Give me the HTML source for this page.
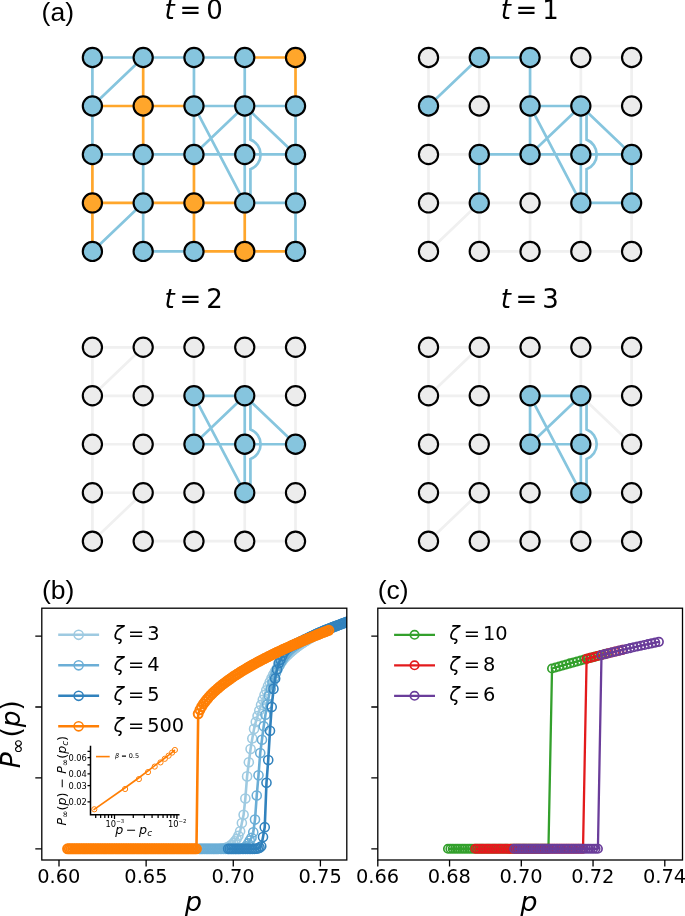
<!DOCTYPE html>
<html lang="en"><head><meta charset="utf-8"><title>Figure</title>
<style>html,body{margin:0;padding:0;background:#fff}svg{display:block}</style>
</head><body>
<svg width="685" height="916" viewBox="0 0 685 916">
<rect width="685" height="916" fill="#fff"/>
<g fill="none" stroke-width="2.7" stroke-linecap="butt">
<path stroke="#86c5de" d="M92.4 57.5L143.18 57.5M143.18 57.5L193.96 57.5M193.96 57.5L244.74 57.5M193.96 105.98L244.74 105.98M244.74 105.98L295.52 105.98M92.4 154.46L143.18 154.46M143.18 154.46L193.96 154.46M193.96 154.46L244.74 154.46M244.74 154.46L295.52 154.46M244.74 202.94L295.52 202.94M143.18 251.42L193.96 251.42M92.4 57.5L92.4 105.98M92.4 105.98L92.4 154.46M143.18 154.46L143.18 202.94M143.18 202.94L143.18 251.42M193.96 57.5L193.96 105.98M193.96 105.98L193.96 154.46M244.74 57.5L244.74 105.98M244.74 105.98L244.74 154.46M244.74 154.46L244.74 202.94M295.52 105.98L295.52 154.46M295.52 154.46L295.52 202.94M295.52 202.94L295.52 251.42M143.18 57.5L92.4 105.98M143.18 202.94L92.4 251.42M244.74 105.98L193.96 154.46M193.96 105.98L244.74 202.94M244.74 105.98L295.52 154.46"/>
<path stroke="#ffa62b" d="M244.74 57.5L295.52 57.5M92.4 105.98L143.18 105.98M143.18 105.98L193.96 105.98M92.4 202.94L143.18 202.94M143.18 202.94L193.96 202.94M193.96 202.94L244.74 202.94M193.96 251.42L244.74 251.42M244.74 251.42L295.52 251.42M92.4 154.46L92.4 202.94M92.4 202.94L92.4 251.42M143.18 57.5L143.18 105.98M143.18 105.98L143.18 154.46M193.96 154.46L193.96 202.94M193.96 202.94L193.96 251.42M244.74 202.94L244.74 251.42M295.52 57.5L295.52 105.98"/>
<path stroke="#86c5de" d="M250.44 105.98 L250.44 139.62 A15.9 15.9 0 0 1 250.44 169.3 L250.44 202.94"/>
</g>
<g stroke="#000" stroke-width="2.15">
<circle cx="92.4" cy="57.5" r="9.6" fill="#86c5de"/>
<circle cx="143.18" cy="57.5" r="9.6" fill="#86c5de"/>
<circle cx="193.96" cy="57.5" r="9.6" fill="#86c5de"/>
<circle cx="244.74" cy="57.5" r="9.6" fill="#86c5de"/>
<circle cx="295.52" cy="57.5" r="9.6" fill="#ffa62b"/>
<circle cx="92.4" cy="105.98" r="9.6" fill="#86c5de"/>
<circle cx="143.18" cy="105.98" r="9.6" fill="#ffa62b"/>
<circle cx="193.96" cy="105.98" r="9.6" fill="#86c5de"/>
<circle cx="244.74" cy="105.98" r="9.6" fill="#86c5de"/>
<circle cx="295.52" cy="105.98" r="9.6" fill="#86c5de"/>
<circle cx="92.4" cy="154.46" r="9.6" fill="#86c5de"/>
<circle cx="143.18" cy="154.46" r="9.6" fill="#86c5de"/>
<circle cx="193.96" cy="154.46" r="9.6" fill="#86c5de"/>
<circle cx="244.74" cy="154.46" r="9.6" fill="#86c5de"/>
<circle cx="295.52" cy="154.46" r="9.6" fill="#86c5de"/>
<circle cx="92.4" cy="202.94" r="9.6" fill="#ffa62b"/>
<circle cx="143.18" cy="202.94" r="9.6" fill="#86c5de"/>
<circle cx="193.96" cy="202.94" r="9.6" fill="#ffa62b"/>
<circle cx="244.74" cy="202.94" r="9.6" fill="#86c5de"/>
<circle cx="295.52" cy="202.94" r="9.6" fill="#86c5de"/>
<circle cx="92.4" cy="251.42" r="9.6" fill="#86c5de"/>
<circle cx="143.18" cy="251.42" r="9.6" fill="#86c5de"/>
<circle cx="193.96" cy="251.42" r="9.6" fill="#86c5de"/>
<circle cx="244.74" cy="251.42" r="9.6" fill="#ffa62b"/>
<circle cx="295.52" cy="251.42" r="9.6" fill="#86c5de"/>
</g>
<g fill="none" stroke-width="2.7" stroke-linecap="butt">
<path stroke="#f0f0f0" d="M428.5 57.5L479.28 57.5M530.06 57.5L580.84 57.5M580.84 57.5L631.62 57.5M428.5 105.98L479.28 105.98M479.28 105.98L530.06 105.98M580.84 105.98L631.62 105.98M428.5 154.46L479.28 154.46M428.5 202.94L479.28 202.94M479.28 202.94L530.06 202.94M530.06 202.94L580.84 202.94M479.28 251.42L530.06 251.42M530.06 251.42L580.84 251.42M580.84 251.42L631.62 251.42M428.5 57.5L428.5 105.98M428.5 105.98L428.5 154.46M428.5 154.46L428.5 202.94M428.5 202.94L428.5 251.42M479.28 57.5L479.28 105.98M479.28 105.98L479.28 154.46M479.28 202.94L479.28 251.42M530.06 154.46L530.06 202.94M530.06 202.94L530.06 251.42M580.84 57.5L580.84 105.98M580.84 202.94L580.84 251.42M631.62 57.5L631.62 105.98M631.62 105.98L631.62 154.46M631.62 202.94L631.62 251.42M479.28 202.94L428.5 251.42"/>
<path stroke="#86c5de" d="M479.28 57.5L530.06 57.5M530.06 105.98L580.84 105.98M479.28 154.46L530.06 154.46M530.06 154.46L580.84 154.46M580.84 154.46L631.62 154.46M580.84 202.94L631.62 202.94M479.28 154.46L479.28 202.94M530.06 57.5L530.06 105.98M530.06 105.98L530.06 154.46M580.84 105.98L580.84 154.46M580.84 154.46L580.84 202.94M631.62 154.46L631.62 202.94M479.28 57.5L428.5 105.98M580.84 105.98L530.06 154.46M530.06 105.98L580.84 202.94M580.84 105.98L631.62 154.46"/>
<path stroke="#86c5de" d="M586.54 105.98 L586.54 139.62 A15.9 15.9 0 0 1 586.54 169.3 L586.54 202.94"/>
</g>
<g stroke="#000" stroke-width="2.15">
<circle cx="428.5" cy="57.5" r="9.6" fill="#ececec"/>
<circle cx="479.28" cy="57.5" r="9.6" fill="#86c5de"/>
<circle cx="530.06" cy="57.5" r="9.6" fill="#86c5de"/>
<circle cx="580.84" cy="57.5" r="9.6" fill="#ececec"/>
<circle cx="631.62" cy="57.5" r="9.6" fill="#ececec"/>
<circle cx="428.5" cy="105.98" r="9.6" fill="#86c5de"/>
<circle cx="479.28" cy="105.98" r="9.6" fill="#ececec"/>
<circle cx="530.06" cy="105.98" r="9.6" fill="#86c5de"/>
<circle cx="580.84" cy="105.98" r="9.6" fill="#86c5de"/>
<circle cx="631.62" cy="105.98" r="9.6" fill="#ececec"/>
<circle cx="428.5" cy="154.46" r="9.6" fill="#ececec"/>
<circle cx="479.28" cy="154.46" r="9.6" fill="#86c5de"/>
<circle cx="530.06" cy="154.46" r="9.6" fill="#86c5de"/>
<circle cx="580.84" cy="154.46" r="9.6" fill="#86c5de"/>
<circle cx="631.62" cy="154.46" r="9.6" fill="#86c5de"/>
<circle cx="428.5" cy="202.94" r="9.6" fill="#ececec"/>
<circle cx="479.28" cy="202.94" r="9.6" fill="#86c5de"/>
<circle cx="530.06" cy="202.94" r="9.6" fill="#ececec"/>
<circle cx="580.84" cy="202.94" r="9.6" fill="#86c5de"/>
<circle cx="631.62" cy="202.94" r="9.6" fill="#86c5de"/>
<circle cx="428.5" cy="251.42" r="9.6" fill="#ececec"/>
<circle cx="479.28" cy="251.42" r="9.6" fill="#ececec"/>
<circle cx="530.06" cy="251.42" r="9.6" fill="#ececec"/>
<circle cx="580.84" cy="251.42" r="9.6" fill="#ececec"/>
<circle cx="631.62" cy="251.42" r="9.6" fill="#ececec"/>
</g>
<g fill="none" stroke-width="2.7" stroke-linecap="butt">
<path stroke="#f0f0f0" d="M92.4 347.3L143.18 347.3M143.18 347.3L193.96 347.3M193.96 347.3L244.74 347.3M244.74 347.3L295.52 347.3M92.4 395.78L143.18 395.78M143.18 395.78L193.96 395.78M244.74 395.78L295.52 395.78M92.4 444.26L143.18 444.26M143.18 444.26L193.96 444.26M92.4 492.74L143.18 492.74M143.18 492.74L193.96 492.74M193.96 492.74L244.74 492.74M244.74 492.74L295.52 492.74M143.18 541.22L193.96 541.22M193.96 541.22L244.74 541.22M244.74 541.22L295.52 541.22M92.4 347.3L92.4 395.78M92.4 395.78L92.4 444.26M92.4 444.26L92.4 492.74M92.4 492.74L92.4 541.22M143.18 347.3L143.18 395.78M143.18 395.78L143.18 444.26M143.18 444.26L143.18 492.74M143.18 492.74L143.18 541.22M193.96 347.3L193.96 395.78M193.96 444.26L193.96 492.74M193.96 492.74L193.96 541.22M244.74 347.3L244.74 395.78M244.74 492.74L244.74 541.22M295.52 347.3L295.52 395.78M295.52 395.78L295.52 444.26M295.52 444.26L295.52 492.74M295.52 492.74L295.52 541.22M143.18 347.3L92.4 395.78M143.18 492.74L92.4 541.22"/>
<path stroke="#86c5de" d="M193.96 395.78L244.74 395.78M193.96 444.26L244.74 444.26M244.74 444.26L295.52 444.26M193.96 395.78L193.96 444.26M244.74 395.78L244.74 444.26M244.74 444.26L244.74 492.74M244.74 395.78L193.96 444.26M193.96 395.78L244.74 492.74M244.74 395.78L295.52 444.26"/>
<path stroke="#86c5de" d="M250.44 395.78 L250.44 429.42 A15.9 15.9 0 0 1 250.44 459.1 L250.44 492.74"/>
</g>
<g stroke="#000" stroke-width="2.15">
<circle cx="92.4" cy="347.3" r="9.6" fill="#ececec"/>
<circle cx="143.18" cy="347.3" r="9.6" fill="#ececec"/>
<circle cx="193.96" cy="347.3" r="9.6" fill="#ececec"/>
<circle cx="244.74" cy="347.3" r="9.6" fill="#ececec"/>
<circle cx="295.52" cy="347.3" r="9.6" fill="#ececec"/>
<circle cx="92.4" cy="395.78" r="9.6" fill="#ececec"/>
<circle cx="143.18" cy="395.78" r="9.6" fill="#ececec"/>
<circle cx="193.96" cy="395.78" r="9.6" fill="#86c5de"/>
<circle cx="244.74" cy="395.78" r="9.6" fill="#86c5de"/>
<circle cx="295.52" cy="395.78" r="9.6" fill="#ececec"/>
<circle cx="92.4" cy="444.26" r="9.6" fill="#ececec"/>
<circle cx="143.18" cy="444.26" r="9.6" fill="#ececec"/>
<circle cx="193.96" cy="444.26" r="9.6" fill="#86c5de"/>
<circle cx="244.74" cy="444.26" r="9.6" fill="#86c5de"/>
<circle cx="295.52" cy="444.26" r="9.6" fill="#86c5de"/>
<circle cx="92.4" cy="492.74" r="9.6" fill="#ececec"/>
<circle cx="143.18" cy="492.74" r="9.6" fill="#ececec"/>
<circle cx="193.96" cy="492.74" r="9.6" fill="#ececec"/>
<circle cx="244.74" cy="492.74" r="9.6" fill="#86c5de"/>
<circle cx="295.52" cy="492.74" r="9.6" fill="#ececec"/>
<circle cx="92.4" cy="541.22" r="9.6" fill="#ececec"/>
<circle cx="143.18" cy="541.22" r="9.6" fill="#ececec"/>
<circle cx="193.96" cy="541.22" r="9.6" fill="#ececec"/>
<circle cx="244.74" cy="541.22" r="9.6" fill="#ececec"/>
<circle cx="295.52" cy="541.22" r="9.6" fill="#ececec"/>
</g>
<g fill="none" stroke-width="2.7" stroke-linecap="butt">
<path stroke="#f0f0f0" d="M428.5 347.3L479.28 347.3M479.28 347.3L530.06 347.3M530.06 347.3L580.84 347.3M580.84 347.3L631.62 347.3M428.5 395.78L479.28 395.78M479.28 395.78L530.06 395.78M580.84 395.78L631.62 395.78M428.5 444.26L479.28 444.26M479.28 444.26L530.06 444.26M580.84 444.26L631.62 444.26M428.5 492.74L479.28 492.74M479.28 492.74L530.06 492.74M530.06 492.74L580.84 492.74M580.84 492.74L631.62 492.74M479.28 541.22L530.06 541.22M530.06 541.22L580.84 541.22M580.84 541.22L631.62 541.22M428.5 347.3L428.5 395.78M428.5 395.78L428.5 444.26M428.5 444.26L428.5 492.74M428.5 492.74L428.5 541.22M479.28 347.3L479.28 395.78M479.28 395.78L479.28 444.26M479.28 444.26L479.28 492.74M479.28 492.74L479.28 541.22M530.06 347.3L530.06 395.78M530.06 444.26L530.06 492.74M530.06 492.74L530.06 541.22M580.84 347.3L580.84 395.78M580.84 492.74L580.84 541.22M631.62 347.3L631.62 395.78M631.62 395.78L631.62 444.26M631.62 444.26L631.62 492.74M631.62 492.74L631.62 541.22M479.28 347.3L428.5 395.78M479.28 492.74L428.5 541.22M580.84 395.78L631.62 444.26"/>
<path stroke="#86c5de" d="M530.06 395.78L580.84 395.78M530.06 444.26L580.84 444.26M530.06 395.78L530.06 444.26M580.84 395.78L580.84 444.26M580.84 444.26L580.84 492.74M580.84 395.78L530.06 444.26M530.06 395.78L580.84 492.74"/>
<path stroke="#86c5de" d="M586.54 395.78 L586.54 429.42 A15.9 15.9 0 0 1 586.54 459.1 L586.54 492.74"/>
</g>
<g stroke="#000" stroke-width="2.15">
<circle cx="428.5" cy="347.3" r="9.6" fill="#ececec"/>
<circle cx="479.28" cy="347.3" r="9.6" fill="#ececec"/>
<circle cx="530.06" cy="347.3" r="9.6" fill="#ececec"/>
<circle cx="580.84" cy="347.3" r="9.6" fill="#ececec"/>
<circle cx="631.62" cy="347.3" r="9.6" fill="#ececec"/>
<circle cx="428.5" cy="395.78" r="9.6" fill="#ececec"/>
<circle cx="479.28" cy="395.78" r="9.6" fill="#ececec"/>
<circle cx="530.06" cy="395.78" r="9.6" fill="#86c5de"/>
<circle cx="580.84" cy="395.78" r="9.6" fill="#86c5de"/>
<circle cx="631.62" cy="395.78" r="9.6" fill="#ececec"/>
<circle cx="428.5" cy="444.26" r="9.6" fill="#ececec"/>
<circle cx="479.28" cy="444.26" r="9.6" fill="#ececec"/>
<circle cx="530.06" cy="444.26" r="9.6" fill="#86c5de"/>
<circle cx="580.84" cy="444.26" r="9.6" fill="#86c5de"/>
<circle cx="631.62" cy="444.26" r="9.6" fill="#ececec"/>
<circle cx="428.5" cy="492.74" r="9.6" fill="#ececec"/>
<circle cx="479.28" cy="492.74" r="9.6" fill="#ececec"/>
<circle cx="530.06" cy="492.74" r="9.6" fill="#ececec"/>
<circle cx="580.84" cy="492.74" r="9.6" fill="#86c5de"/>
<circle cx="631.62" cy="492.74" r="9.6" fill="#ececec"/>
<circle cx="428.5" cy="541.22" r="9.6" fill="#ececec"/>
<circle cx="479.28" cy="541.22" r="9.6" fill="#ececec"/>
<circle cx="530.06" cy="541.22" r="9.6" fill="#ececec"/>
<circle cx="580.84" cy="541.22" r="9.6" fill="#ececec"/>
<circle cx="631.62" cy="541.22" r="9.6" fill="#ececec"/>
</g>
<g font-family="'DejaVu Sans','Liberation Sans',sans-serif" font-size="26" fill="#000">
<text y="18.6"><tspan x="164.6" font-style="oblique">t</tspan> <tspan x="179.4">=</tspan> <tspan x="206.2">0</tspan></text>
</g>
<g font-family="'DejaVu Sans','Liberation Sans',sans-serif" font-size="26" fill="#000">
<text y="18.6"><tspan x="500.7" font-style="oblique">t</tspan> <tspan x="515.5">=</tspan> <tspan x="542.3">1</tspan></text>
</g>
<g font-family="'DejaVu Sans','Liberation Sans',sans-serif" font-size="26" fill="#000">
<text y="308.4"><tspan x="164.6" font-style="oblique">t</tspan> <tspan x="179.4">=</tspan> <tspan x="206.2">2</tspan></text>
</g>
<g font-family="'DejaVu Sans','Liberation Sans',sans-serif" font-size="26" fill="#000">
<text y="308.4"><tspan x="500.7" font-style="oblique">t</tspan> <tspan x="515.5">=</tspan> <tspan x="542.3">3</tspan></text>
</g>
<g font-family="'Liberation Sans','DejaVu Sans',sans-serif" font-size="26.5" fill="#000">
<text x="41.6" y="20.6">(a)</text>
<text x="41.9" y="599.4">(b)</text>
<text x="377.8" y="599.4">(c)</text>
</g>
<defs>
<marker id="m3" markerUnits="userSpaceOnUse" markerWidth="12.2" markerHeight="12.2" refX="6.1" refY="6.1" viewBox="0 0 12.2 12.2" overflow="visible"><circle cx="6.1" cy="6.1" r="4.55" fill="none" stroke="#9ecae1" stroke-width="1.55"/></marker>
<marker id="m4" markerUnits="userSpaceOnUse" markerWidth="12.2" markerHeight="12.2" refX="6.1" refY="6.1" viewBox="0 0 12.2 12.2" overflow="visible"><circle cx="6.1" cy="6.1" r="4.55" fill="none" stroke="#6baed6" stroke-width="1.55"/></marker>
<marker id="m5" markerUnits="userSpaceOnUse" markerWidth="12.2" markerHeight="12.2" refX="6.1" refY="6.1" viewBox="0 0 12.2 12.2" overflow="visible"><circle cx="6.1" cy="6.1" r="4.55" fill="none" stroke="#3182bd" stroke-width="1.55"/></marker>
<marker id="mo" markerUnits="userSpaceOnUse" markerWidth="12.9" markerHeight="12.9" refX="6.45" refY="6.45" viewBox="0 0 12.9 12.9" overflow="visible"><circle cx="6.45" cy="6.45" r="4.5" fill="none" stroke="#ff7f05" stroke-width="1.95"/></marker>
<marker id="mg" markerUnits="userSpaceOnUse" markerWidth="11.8" markerHeight="11.8" refX="5.9" refY="5.9" viewBox="0 0 11.8 11.8" overflow="visible"><circle cx="5.9" cy="5.9" r="4.2" fill="none" stroke="#33a02c" stroke-width="1.7"/></marker>
<marker id="mr" markerUnits="userSpaceOnUse" markerWidth="11.8" markerHeight="11.8" refX="5.9" refY="5.9" viewBox="0 0 11.8 11.8" overflow="visible"><circle cx="5.9" cy="5.9" r="4.2" fill="none" stroke="#e31a1c" stroke-width="1.7"/></marker>
<marker id="mp" markerUnits="userSpaceOnUse" markerWidth="11.8" markerHeight="11.8" refX="5.9" refY="5.9" viewBox="0 0 11.8 11.8" overflow="visible"><circle cx="5.9" cy="5.9" r="4.2" fill="none" stroke="#6a3d9a" stroke-width="1.7"/></marker>
<marker id="mi" markerUnits="userSpaceOnUse" markerWidth="7.2" markerHeight="7.2" refX="3.6" refY="3.6" viewBox="0 0 7.2 7.2" overflow="visible"><circle cx="3.6" cy="3.6" r="2.6" fill="none" stroke="#ff7f05" stroke-width="1"/></marker>
<clipPath id="clipb"><rect x="41.8" y="608.2" width="305" height="251.8"/></clipPath>
<clipPath id="clipc"><rect x="377.8" y="608.2" width="304.7" height="251.8"/></clipPath>
</defs>
<g clip-path="url(#clipb)">
<polyline fill="none" stroke="#9ecae1" stroke-width="2.6" stroke-linejoin="round" marker-start="url(#m3)" marker-mid="url(#m3)" marker-end="url(#m3)" points="200.06,848.8 201.8,848.8 203.54,848.8 205.28,848.8 207.03,848.8 208.77,848.8 210.51,848.8 212.25,848.8 213.99,848.8 215.74,848.8 217.48,848.8 219.22,848.78 220.96,848.67 222.7,848.46 224.45,848.19 226.19,847.7 227.93,846.99 229.67,846.02 231.41,844.79 233.16,843.19 234.9,841.2 236.64,838.9 238.38,835.7 240.12,831.29 241.87,823.07 243.61,814.85 245.35,798.5 247.09,776.38 248.83,762.27 250.58,748.96 252.32,738.4 254.06,728.88 255.8,721.92 257.54,716.03 259.29,710.47 261.03,704.94 262.77,699.76 264.51,694.91 266.25,690.36 268,686.07 269.74,682.07 271.48,678.32 273.22,674.77 274.96,671.56 276.71,668.69 278.45,666.07 280.19,663.73 281.93,661.41 283.67,659.27 285.42,657.29 287.16,655.46 288.9,653.75 290.64,652.16 292.38,650.67 294.13,649.27 295.87,647.95 297.61,646.6 299.35,645.31 301.09,644.07 302.84,642.88 304.58,641.74 306.32,640.64 308.06,639.58 309.8,638.54 311.55,637.54 313.29,636.56 315.03,635.61 316.77,634.67 318.51,633.76 320.26,632.86 322,631.98 323.74,631.22 325.48,630.47 327.22,629.73 328.97,629.01 330.71,628.29 332.45,627.59 334.19,626.89 335.93,626.2 337.68,625.52 339.42,624.84 341.16,624.17 342.9,623.51 344.64,622.85 346.39,622.19 348.13,621.55 349.87,620.9 351.61,620.26 353.35,619.63 355.1,619"/>
<polyline fill="none" stroke="#6baed6" stroke-width="2.6" stroke-linejoin="round" marker-start="url(#m4)" marker-mid="url(#m4)" marker-end="url(#m4)" points="199.26,848.8 201,848.8 202.74,848.8 204.49,848.8 206.23,848.8 207.97,848.8 209.71,848.8 211.45,848.8 213.2,848.8 214.94,848.8 216.68,848.8 218.42,848.8 220.16,848.8 221.91,848.8 223.65,848.8 225.39,848.8 227.13,848.8 228.87,848.8 230.62,848.8 232.36,848.8 234.1,848.8 235.84,848.8 237.58,848.8 239.33,848.8 241.07,848.71 242.81,848.23 244.55,847.4 246.29,846.24 248.04,843.44 249.78,840.64 251.52,837.72 253.26,832.3 255,819.56 256.75,795.49 258.49,775.35 260.23,752.95 261.97,739.73 263.71,726.18 265.46,714.65 267.2,704.51 268.94,695.77 270.68,688.66 272.42,682.75 274.17,677.58 275.91,672.91 277.65,668.96 279.39,665.54 281.13,661.93 282.88,658.58 284.62,655.79 286.36,653.44 288.1,651.45 289.84,649.72 291.59,648.21 293.33,646.87 295.07,645.66 296.81,644.5 298.55,643.37 300.3,642.31 302.04,641.29 303.78,640.32 305.52,639.38 307.26,638.47 309.01,637.58 310.75,636.71 312.49,635.85 314.23,635.01 315.97,634.18 317.72,633.35 319.46,632.54 321.2,631.73 322.94,630.98 324.68,630.3 326.43,629.61 328.17,628.93 329.91,628.26 331.65,627.59 333.39,626.93 335.14,626.27 336.88,625.61 338.62,624.95 340.36,624.3 342.1,623.66 343.85,623.01 345.59,622.37 347.33,621.74 349.07,621.1 350.81,620.47 352.56,619.84 354.3,619.22"/>
<polyline fill="none" stroke="#3182bd" stroke-width="2.6" stroke-linejoin="round" marker-start="url(#m5)" marker-mid="url(#m5)" marker-end="url(#m5)" points="228.16,848.8 229.9,848.8 231.64,848.8 233.39,848.8 235.13,848.8 236.87,848.8 238.61,848.8 240.35,848.8 242.1,848.8 243.84,848.8 245.58,848.8 247.32,848.8 249.06,848.8 250.81,848.8 252.55,848.8 254.29,848.8 256.03,848.77 257.77,848.41 259.52,847.61 261.26,846.3 263,837.1 264.74,827.18 266.48,782.73 268.23,760.06 269.97,730.83 271.71,706.9 273.45,688.88 275.19,678.48 276.94,669.52 278.68,663.2 280.42,659.84 282.16,655.91 283.9,652.45 285.65,650.17 287.39,648.55 289.13,647.3 290.87,646.26 292.61,645.34 294.36,644.49 296.1,643.68 297.84,642.79 299.58,641.92 301.32,641.06 303.07,640.21 304.81,639.37 306.55,638.53 308.29,637.7 310.03,636.88 311.78,636.06 313.52,635.24 315.26,634.43 317,633.62 318.74,632.82 320.49,632.02 322.23,631.24 323.97,630.55 325.71,629.87 327.45,629.2 329.2,628.52 330.94,627.86 332.68,627.19 334.42,626.53 336.16,625.87 337.91,625.22 339.65,624.57 341.39,623.92 343.13,623.28 344.87,622.63 346.62,622 348.36,621.36 350.1,620.73 351.84,620.1 353.58,619.47 355.33,618.85"/>
<polyline fill="none" stroke="#ff7f05" stroke-width="2.6" stroke-linejoin="round" marker-start="url(#mo)" marker-mid="url(#mo)" marker-end="url(#mo)" points="67.55,848.8 69.29,848.8 71.03,848.8 72.78,848.8 74.52,848.8 76.26,848.8 78,848.8 79.74,848.8 81.49,848.8 83.23,848.8 84.97,848.8 86.71,848.8 88.45,848.8 90.2,848.8 91.94,848.8 93.68,848.8 95.42,848.8 97.16,848.8 98.91,848.8 100.65,848.8 102.39,848.8 104.13,848.8 105.87,848.8 107.62,848.8 109.36,848.8 111.1,848.8 112.84,848.8 114.58,848.8 116.33,848.8 118.07,848.8 119.81,848.8 121.55,848.8 123.29,848.8 125.04,848.8 126.78,848.8 128.52,848.8 130.26,848.8 132,848.8 133.75,848.8 135.49,848.8 137.23,848.8 138.97,848.8 140.71,848.8 142.46,848.8 144.2,848.8 145.94,848.8 147.68,848.8 149.42,848.8 151.17,848.8 152.91,848.8 154.65,848.8 156.39,848.8 158.13,848.8 159.88,848.8 161.62,848.8 163.36,848.8 165.1,848.8 166.84,848.8 168.59,848.8 170.33,848.8 172.07,848.8 173.81,848.8 175.55,848.8 177.3,848.8 179.04,848.8 180.78,848.8 182.52,848.8 184.26,848.8 186.01,848.8 187.75,848.8 189.49,848.8 191.23,848.8 192.97,848.8 194.72,848.8 196.46,848.8 198.2,713.8 199.94,709.82 201.68,706.67 203.43,703.98 205.17,701.57 206.91,699.39 208.65,697.36 210.39,695.47 212.14,693.68 213.88,691.98 215.62,690.36 217.36,688.81 219.1,687.31 220.85,685.86 222.59,684.47 224.33,683.11 226.07,681.79 227.81,680.51 229.56,679.26 231.3,678.04 233.04,676.84 234.78,675.68 236.52,674.53 238.27,673.41 240.01,672.31 241.75,671.23 243.49,670.16 245.23,669.12 246.98,668.09 248.72,667.07 250.46,666.08 252.2,665.09 253.94,664.12 255.69,663.16 257.43,662.22 259.17,661.28 260.91,660.36 262.65,659.45 264.4,658.55 266.14,657.66 267.88,656.78 269.62,655.91 271.36,655.05 273.11,654.19 274.85,653.35 276.59,652.51 278.33,651.68 280.07,650.86 281.82,650.05 283.56,649.24 285.3,648.44 287.04,647.65 288.78,646.86 290.53,646.08 292.27,645.31 294.01,644.54 295.75,643.78 297.49,643.02 299.24,642.27 300.98,641.53 302.72,640.79 304.46,640.06 306.2,639.33 307.95,638.6 309.69,637.88 311.43,637.17 313.17,636.46 314.91,635.75 316.66,635.05 318.4,634.35 320.14,633.66 321.88,632.97 323.62,632.29 325.37,631.61 327.11,630.93 328.85,630.26"/>
</g>
<g clip-path="url(#clipc)">
<polyline fill="none" stroke="#33a02c" stroke-width="2.3" stroke-linejoin="round" marker-start="url(#mg)" marker-mid="url(#mg)" marker-end="url(#mg)" points="448,848.8 450.39,848.8 452.78,848.8 455.17,848.8 457.57,848.8 459.96,848.8 462.35,848.8 464.74,848.8 467.13,848.8 469.52,848.8 471.92,848.8 474.31,848.8 476.7,848.8 479.09,848.8 481.48,848.8 483.87,848.8 486.27,848.8 488.66,848.8 491.05,848.8 493.44,848.8 495.83,848.8 498.22,848.8 500.62,848.8 503.01,848.8 505.4,848.8 507.79,848.8 510.18,848.8 512.57,848.8 514.97,848.8 517.36,848.8 519.75,848.8 522.14,848.8 524.53,848.8 526.92,848.8 529.32,848.8 531.71,848.8 534.1,848.8 536.49,848.8 538.88,848.8 541.27,848.8 543.67,848.8 546.06,848.8 548.45,848.8 552.04,668.49 555.62,667.47 559.21,666.45 562.8,665.44 566.39,664.43 569.97,663.42 573.56,662.43 577.15,661.43 580.74,660.45 584.32,659.48 587.91,658.52 591.5,657.57 595.09,656.63 598.67,655.7 602.26,654.79 605.85,653.89"/>
<polyline fill="none" stroke="#e31a1c" stroke-width="2.3" stroke-linejoin="round" marker-start="url(#mr)" marker-mid="url(#mr)" marker-end="url(#mr)" points="475.4,848.8 477.79,848.8 480.18,848.8 482.57,848.8 484.97,848.8 487.36,848.8 489.75,848.8 492.14,848.8 494.53,848.8 496.92,848.8 499.32,848.8 501.71,848.8 504.1,848.8 506.49,848.8 508.88,848.8 511.27,848.8 513.67,848.8 516.06,848.8 518.45,848.8 520.84,848.8 523.23,848.8 525.62,848.8 528.02,848.8 530.41,848.8 532.8,848.8 535.19,848.8 537.58,848.8 539.97,848.8 542.37,848.8 544.76,848.8 547.15,848.8 549.54,848.8 551.93,848.8 554.32,848.8 556.72,848.8 559.11,848.8 561.5,848.8 563.89,848.8 566.28,848.8 568.67,848.8 571.07,848.8 573.46,848.8 575.85,848.8 578.24,848.8 580.63,848.8 583.02,848.8 586.61,658.86 590.2,657.91 593.79,656.97 597.37,656.04 600.96,655.12 604.55,654.21 608.14,653.32 611.72,652.44 615.31,651.57 618.9,650.72 622.49,649.88"/>
<polyline fill="none" stroke="#6a3d9a" stroke-width="2.3" stroke-linejoin="round" marker-start="url(#mp)" marker-mid="url(#mp)" marker-end="url(#mp)" points="514.2,848.8 516.59,848.8 518.98,848.8 521.38,848.8 523.77,848.8 526.16,848.8 528.55,848.8 530.94,848.8 533.33,848.8 535.72,848.8 538.12,848.8 540.51,848.8 542.9,848.8 545.29,848.8 547.68,848.8 550.07,848.8 552.47,848.8 554.86,848.8 557.25,848.8 559.64,848.8 562.03,848.8 564.42,848.8 566.82,848.8 569.21,848.8 571.6,848.8 573.99,848.8 576.38,848.8 578.77,848.8 581.17,848.8 583.56,848.8 585.95,848.8 588.34,848.8 590.73,848.8 593.12,848.8 595.52,848.8 597.91,848.8 601.5,654.98 605.08,654.08 608.67,653.19 612.26,652.31 615.85,651.45 619.43,650.59 623.02,649.75 626.61,648.93 630.2,648.11 633.78,647.3 637.37,646.5 640.96,645.71 644.55,644.93 648.13,644.15 651.72,643.38 655.31,642.61 658.9,641.84"/>
</g>
<g stroke="#000" stroke-width="1.3" fill="none" stroke-linecap="square">
<rect x="41.8" y="608.2" width="305" height="251.8"/>
<rect x="377.8" y="608.2" width="304.7" height="251.8"/>
</g>
<path stroke="#000" stroke-width="1.3" fill="none" d="M41.8 636.1h-6.5M377.8 636.1h-6.5M41.8 707h-6.5M377.8 707h-6.5M41.8 777.9h-6.5M377.8 777.9h-6.5M41.8 848.8h-6.5M377.8 848.8h-6.5M59 860v6.5M146.13 860v6.5M233.27 860v6.5M320.4 860v6.5M377.8 860v6.5M449.55 860v6.5M521.3 860v6.5M593.05 860v6.5M664.8 860v6.5"/>
<g font-family="'DejaVu Sans','Liberation Sans',sans-serif" font-size="19.4" fill="#000" text-anchor="middle">
<text x="58.8" y="882.8">0.60</text>
<text x="145.93" y="882.8">0.65</text>
<text x="233.07" y="882.8">0.70</text>
<text x="320.2" y="882.8">0.75</text>
<text x="377.6" y="882.8">0.66</text>
<text x="449.35" y="882.8">0.68</text>
<text x="521.1" y="882.8">0.70</text>
<text x="592.85" y="882.8">0.72</text>
<text x="664.6" y="882.8">0.74</text>
</g>
<g font-family="'DejaVu Sans','Liberation Sans',sans-serif" font-size="27.2" fill="#000" font-style="oblique" text-anchor="middle">
<text x="193.3" y="910.9">p</text>
<text x="529.0" y="910.9">p</text>
</g>
<g transform="translate(19.9 768.2) rotate(-90)" font-family="'DejaVu Sans','Liberation Sans',sans-serif" font-size="26.5" fill="#000">
<text><tspan x="0" y="0" font-style="oblique">P</tspan><tspan x="14.2" y="3.9" font-size="18.6">∞</tspan><tspan x="30.6" y="0">(</tspan><tspan x="41.0" y="0" font-style="oblique">p</tspan><tspan x="57.6" y="0">)</tspan></text>
</g>
<path d="M58.2 634.8H99.1" stroke="#9ecae1" stroke-width="2.6" fill="none"/>
<circle cx="78.65" cy="634.8" r="4.55" fill="none" stroke="#9ecae1" stroke-width="1.55"/>
<path d="M58.2 665.3H99.1" stroke="#6baed6" stroke-width="2.6" fill="none"/>
<circle cx="78.65" cy="665.3" r="4.55" fill="none" stroke="#6baed6" stroke-width="1.55"/>
<path d="M58.2 695.8H99.1" stroke="#3182bd" stroke-width="2.6" fill="none"/>
<circle cx="78.65" cy="695.8" r="4.55" fill="none" stroke="#3182bd" stroke-width="1.55"/>
<path d="M58.2 726.3H99.1" stroke="#ff7f05" stroke-width="2.6" fill="none"/>
<circle cx="78.65" cy="726.3" r="4.55" fill="none" stroke="#ff7f05" stroke-width="1.55"/>
<g font-family="'DejaVu Sans','Liberation Sans',sans-serif" font-size="19.4" fill="#000">
<text y="640.3"><tspan x="113.6" font-style="oblique">ζ</tspan> <tspan x="128">=</tspan> <tspan x="147.2">3</tspan></text>
<text y="670.8"><tspan x="113.6" font-style="oblique">ζ</tspan> <tspan x="128">=</tspan> <tspan x="147.2">4</tspan></text>
<text y="701.3"><tspan x="113.6" font-style="oblique">ζ</tspan> <tspan x="128">=</tspan> <tspan x="147.2">5</tspan></text>
<text y="731.8"><tspan x="113.6" font-style="oblique">ζ</tspan> <tspan x="128">=</tspan> <tspan x="147.2">500</tspan></text>
</g>
<path d="M394.1 634.8H435" stroke="#33a02c" stroke-width="2.3" fill="none"/>
<circle cx="414.55" cy="634.8" r="4.2" fill="none" stroke="#33a02c" stroke-width="1.7"/>
<path d="M394.1 665.3H435" stroke="#e31a1c" stroke-width="2.3" fill="none"/>
<circle cx="414.55" cy="665.3" r="4.2" fill="none" stroke="#e31a1c" stroke-width="1.7"/>
<path d="M394.1 695.8H435" stroke="#6a3d9a" stroke-width="2.3" fill="none"/>
<circle cx="414.55" cy="695.8" r="4.2" fill="none" stroke="#6a3d9a" stroke-width="1.7"/>
<g font-family="'DejaVu Sans','Liberation Sans',sans-serif" font-size="19.4" fill="#000">
<text y="640.3"><tspan x="449.3" font-style="oblique">ζ</tspan> <tspan x="463.7">=</tspan> <tspan x="482.9">10</tspan></text>
<text y="670.8"><tspan x="449.3" font-style="oblique">ζ</tspan> <tspan x="463.7">=</tspan> <tspan x="482.9">8</tspan></text>
<text y="701.3"><tspan x="449.3" font-style="oblique">ζ</tspan> <tspan x="463.7">=</tspan> <tspan x="482.9">6</tspan></text>
</g>
<polyline fill="none" stroke="#ff7f05" stroke-width="1.7" points="93.5,809.9 125.1,787.8 138.9,777.8 148,770.9 154.7,765.6 160.5,761.4 164.8,758 168.6,755.1 172.1,752.3 174.9,750"/>
<polyline fill="none" stroke="none" marker-start="url(#mi)" marker-mid="url(#mi)" marker-end="url(#mi)" points="94.3,809.3 125.1,789 138.9,779.1 148,772.1 154.7,766.6 160.5,762.4 164.8,758.8 168.6,755.7 172.1,752.6 174.9,750"/>
<path d="M90.5 746.4V814.7H178.8" stroke="#000" stroke-width="1.5" fill="none" stroke-linecap="square"/>
<path stroke="#000" stroke-width="1.25" fill="none" d="M90.5 801.9h-3M90.5 785.52h-3M90.5 773.9h-3M90.5 764.89h-3M90.5 757.52h-3M90.5 751.29h-3M95.72 814.7v3.2M100.66 814.7v3.2M104.83 814.7v3.2M108.45 814.7v3.2M111.64 814.7v3.2M133.28 814.7v3.2M144.27 814.7v3.2M152.07 814.7v3.2M158.12 814.7v3.2M163.06 814.7v3.2M167.23 814.7v3.2M170.85 814.7v3.2M174.04 814.7v3.2M114.5 814.7v4.2M176.9 814.7v4.2"/>
<g font-family="'DejaVu Sans','Liberation Sans',sans-serif" font-size="8.3" fill="#000">
<text x="86.9" y="805" text-anchor="end">0.02</text>
<text x="86.9" y="788.62" text-anchor="end">0.03</text>
<text x="86.9" y="777" text-anchor="end">0.04</text>
<text x="86.9" y="760.62" text-anchor="end">0.06</text>
<text x="105.6" y="827.0" font-size="8.3">10<tspan dy="-3.6" font-size="5.4">−3</tspan></text>
<text x="168" y="827.0" font-size="8.3">10<tspan dy="-3.6" font-size="5.4">−2</tspan></text>
</g>
<path d="M96 756.6H109.7" stroke="#ff7f05" stroke-width="1.6"/>
<text x="115.0" y="757.8" font-family="'DejaVu Sans','Liberation Sans',sans-serif" font-size="6.5" fill="#000"><tspan font-style="oblique">β</tspan> = 0.5</text>
<g font-family="'DejaVu Sans','Liberation Sans',sans-serif" font-size="12.7" fill="#000">
<text><tspan x="115.3" y="834.2" font-style="oblique">p</tspan> <tspan x="125.9" y="834.2">−</tspan> <tspan x="139.0" y="834.2" font-style="oblique">p</tspan><tspan x="147.2" y="836.4" font-style="oblique" font-size="8.9">c</tspan></text>
</g>
<g transform="translate(65.5 825.6) rotate(-90)" font-family="'DejaVu Sans','Liberation Sans',sans-serif" font-size="12.7" fill="#000">
<text x="0" y="0"><tspan font-style="oblique">P</tspan><tspan font-size="8.9" dy="2.2">∞</tspan><tspan dy="-2.2">(</tspan><tspan font-style="oblique">p</tspan>) − <tspan font-style="oblique">P</tspan><tspan font-size="8.9" dy="2.2">∞</tspan><tspan dy="-2.2">(</tspan><tspan font-style="oblique">p</tspan><tspan font-style="oblique" font-size="8.9" dy="2.2">c</tspan><tspan dy="-2.2">)</tspan></text>
</g>
</svg>
</body></html>
